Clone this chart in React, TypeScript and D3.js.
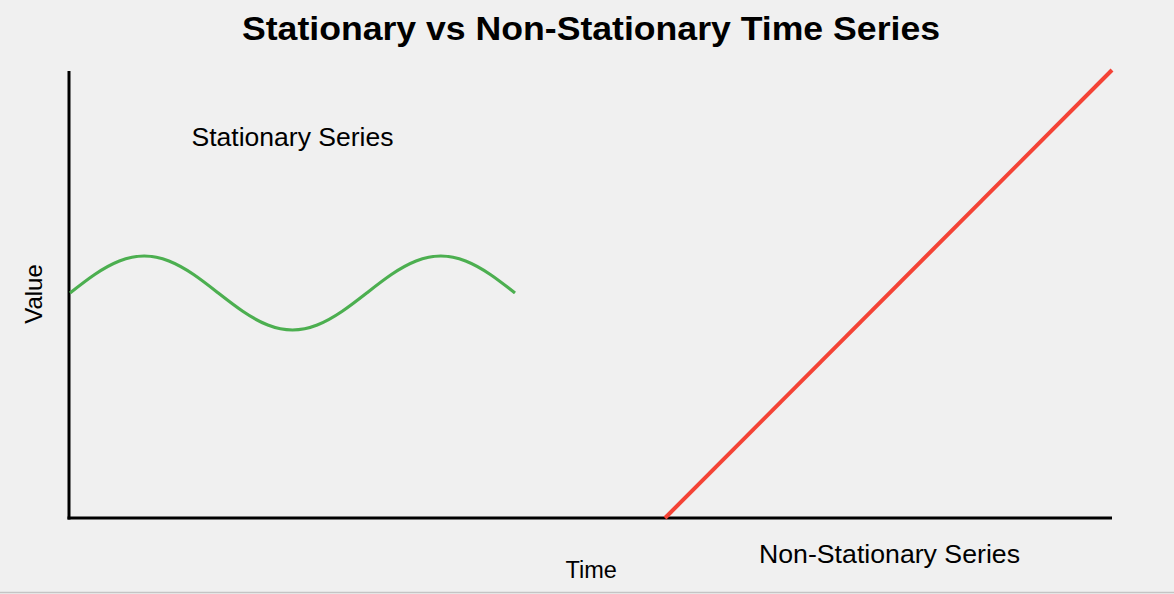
import React from "react";
import * as d3 from "d3";

const W = 1174;
const H = 594;

// Stationary series: time (px-like units) and value
const stationaryTime = [0, 24.7, 49.4, 74.2, 98.9, 123.6, 148.3, 173.1, 197.8, 222.5, 247.2, 271.9, 296.7, 321.4, 346.1, 370.8, 395.6, 420.3, 445];
const stationaryValue = [225, 243.5, 257, 262, 257, 243.5, 225, 206.5, 193, 188, 193, 206.5, 225, 243.5, 257, 262, 257, 243.5, 225];

// Non-stationary series (linear trend)
const trendTime = [595, 1042];
const trendValue = [0, 448];

const title = "Stationary vs Non-Stationary Time Series";

export default function App() {
  const x = d3.scaleLinear().domain([0, 1042]).range([70, 1112]);
  const y = d3.scaleLinear().domain([0, 447]).range([518, 71]);

  const line = d3
    .line<[number, number]>()
    .x((d) => x(d[0]))
    .y((d) => y(d[1]))
    .curve(d3.curveNatural);
  const straight = d3
    .line<[number, number]>()
    .x((d) => x(d[0]))
    .y((d) => y(d[1]));

  const stat: [number, number][] = stationaryTime.map((t, i) => [t, stationaryValue[i]]);
  const trend: [number, number][] = trendTime.map((t, i) => [t, trendValue[i]]);

  return (
    <svg
      width={W}
      height={H}
      style={{ position: "absolute", left: 0, top: 0, background: "#f0f0f0", fontFamily: "'Liberation Sans', Arial, Helvetica, sans-serif" }}
    >
      <rect x={0} y={0} width={W} height={H} fill="#f0f0f0" />
      <line x1={0} x2={W} y1={592.5} y2={592.5} stroke="#c4c4c4" strokeWidth={1.5} />
      <text x={242} y={40} fontSize={33.5} fontWeight="bold" fill="#000" textLength={698} lengthAdjust="spacingAndGlyphs">
        {title}
      </text>
      {/* axes */}
      <line x1={x(0)} x2={x(0)} y1={y(447)} y2={y(0) + 1.5} stroke="#000" strokeWidth={3} transform="translate(-1,0)" />
      <line x1={x(0) - 2.5} x2={x(1042)} y1={y(0)} y2={y(0)} stroke="#000" strokeWidth={3} />
      {/* series */}
      <path d={line(stat) || ""} fill="none" stroke="#4caf50" strokeWidth={3.2} />
      <path d={straight(trend) || ""} fill="none" stroke="#f44336" strokeWidth={4} />
      {/* labels */}
      <text x={191.5} y={146} fontSize={26.3} fill="#000" textLength={202} lengthAdjust="spacingAndGlyphs">Stationary Series</text>
      <text x={759} y={562.5} fontSize={26.3} fill="#000" textLength={261} lengthAdjust="spacingAndGlyphs">Non-Stationary Series</text>
      <text x={565.5} y={577.5} fontSize={23.5} fill="#000">Time</text>
      <text transform={`translate(41.5,294) rotate(-90)`} textAnchor="middle" fontSize={24} fill="#000">Value</text>
    </svg>
  );
}
